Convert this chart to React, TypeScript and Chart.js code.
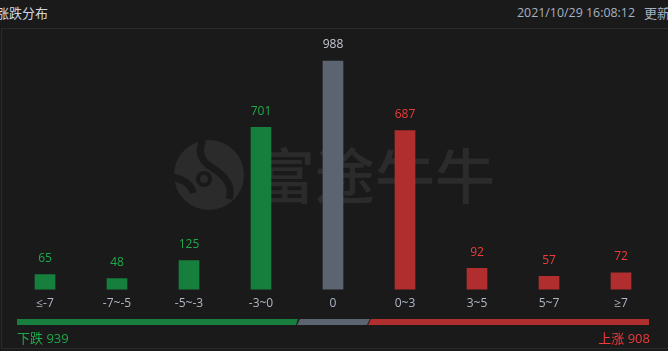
import React, { useEffect, useRef } from "react";
import { Chart, registerables } from "chart.js";

Chart.register(...registerables);

const categories = ["≤-7", "-7~-5", "-5~-3", "-3~0", "0", "0~3", "3~5", "5~7", "≥7"];
const counts = [65, 48, 125, 701, 988, 687, 92, 57, 72];
const barColors = ["#177f3d", "#177f3d", "#177f3d", "#177f3d", "#5d6471", "#b02e2e", "#b02e2e", "#b02e2e", "#b02e2e"];
const labelColors = ["#1fa84a", "#1fa84a", "#1fa84a", "#1fa84a", "#c4c8d0", "#ee3b3b", "#ee3b3b", "#ee3b3b", "#ee3b3b"];
const title = "涨跌分布";
const timestamp = "2021/10/29 16:08:12";
const fallText = "下跌 939";
const riseText = "上涨 908";

const BG = "#1a1a1a";
const FONT = "'Open Sans', 'Noto Sans CJK SC', sans-serif";
const CJK = "'Noto Sans CJK SC', sans-serif";

const watermark = {
  id: "watermark",
  beforeDatasetsDraw(chart: any) {
    const ctx = chart.ctx;
    ctx.save();
    const col = "#2b2b2b";
    const cx = 209, cy = 175, r = 35;
    ctx.fillStyle = col;
    ctx.beginPath();
    ctx.arc(cx, cy, r, 0, Math.PI * 2);
    ctx.fill();
    ctx.strokeStyle = BG;
    ctx.lineWidth = 7;
    ctx.beginPath();
    ctx.moveTo(cx - 6, cy - r);
    ctx.quadraticCurveTo(cx - 14, cy - 18, cx + 2, cy - 8);
    ctx.quadraticCurveTo(cx + 26, cy + 6, cx + 20, cy + 24);
    ctx.stroke();
    ctx.beginPath();
    ctx.moveTo(cx - r - 2, cy + 2);
    ctx.quadraticCurveTo(cx - 18, cy + 6, cx - 16, cy + 18);
    ctx.stroke();
    ctx.fillStyle = BG;
    ctx.beginPath();
    ctx.arc(cx - 5, cy + 4, 8, 0, Math.PI * 2);
    ctx.fill();
    ctx.fillStyle = col;
    ctx.beginPath();
    ctx.arc(cx - 5, cy + 4, 4, 0, Math.PI * 2);
    ctx.fill();
    ctx.fillStyle = col;
    ctx.font = `500 60px ${CJK}`;
    ctx.textAlign = "left";
    ctx.textBaseline = "middle";
    ctx.fillText("富途牛牛", 255, 176);
    ctx.restore();
  },
};

const valueLabels = {
  id: "valueLabels",
  afterDatasetsDraw(chart: any) {
    const ctx = chart.ctx;
    const meta = chart.getDatasetMeta(0);
    ctx.save();
    ctx.font = `12px ${FONT}`;
    ctx.textAlign = "center";
    ctx.textBaseline = "middle";
    meta.data.forEach((bar: any, i: number) => {
      ctx.fillStyle = labelColors[i];
      ctx.fillText(String(counts[i]), bar.x, bar.y - 16);
    });
    ctx.restore();
  },
};

export default function App() {
  const ref = useRef<HTMLCanvasElement>(null);
  useEffect(() => {
    document.body.style.margin = "0";
    document.body.style.background = BG;
    const chart = new Chart(ref.current!, {
      type: "bar",
      data: {
        labels: categories,
        datasets: [
          {
            data: counts,
            backgroundColor: barColors,
            barThickness: 20,
            borderWidth: 0,
          },
        ],
      },
      options: {
        animation: false,
        responsive: false,
        maintainAspectRatio: false,
        layout: { padding: { top: 58, left: 9, right: 11, bottom: 33 } },
        plugins: { legend: { display: false }, tooltip: { enabled: false } },
        scales: {
          y: { display: false, min: 0, max: 1001 },
          x: {
            grid: { display: false, drawTicks: false },
            border: { display: false },
            ticks: { color: "#b0b8c6", font: { size: 12, family: FONT }, padding: 7, maxRotation: 0, autoSkip: false },
          },
        },
      },
      plugins: [watermark, valueLabels],
    });
    return () => chart.destroy();
  }, []);

  const seg = (left: number, width: number, color: string, clip: string) => (
    <div
      style={{
        position: "absolute",
        left,
        top: 319,
        width,
        height: 6,
        background: color,
        clipPath: clip,
      }}
    />
  );

  return (
    <div style={{ position: "relative", width: 668, height: 351, background: BG, overflow: "hidden", fontFamily: FONT }}>
      <div style={{ position: "absolute", left: 1, top: 28, width: 700, height: 319, border: "1px solid #2a2a2a" }} />
      <div style={{ position: "absolute", left: -4, top: 4, fontSize: 13, lineHeight: "18px", color: "#d0d6e0", whiteSpace: "nowrap", fontFamily: CJK }}>{title}</div>
      <div style={{ position: "absolute", right: 33, top: 4, fontSize: 12.4, lineHeight: "18px", color: "#a8b2c2", whiteSpace: "nowrap" }}>{timestamp}</div>
      <div style={{ position: "absolute", left: 644, top: 4, fontSize: 13, lineHeight: "18px", color: "#a8b2c2", whiteSpace: "nowrap", fontFamily: CJK }}>更新</div>
      <canvas ref={ref} width={668} height={351} style={{ position: "absolute", left: 0, top: 0 }} />
      {seg(17, 281, "#177f3d", "polygon(0 0, 100% 0, calc(100% - 2px) 100%, 0 100%)")}
      {seg(297, 73, "#5d6471", "polygon(3px 0, 100% 0, calc(100% - 3px) 100%, 0 100%)")}
      {seg(368, 281, "#b02e2e", "polygon(3px 0, 100% 0, 100% 100%, 0 100%)")}
      <div style={{ position: "absolute", left: 17, top: 329, fontSize: 13, lineHeight: "18px", color: "#1fa84a", whiteSpace: "nowrap" }}>{fallText}</div>
      <div style={{ position: "absolute", right: 18, top: 329, fontSize: 13, lineHeight: "18px", color: "#ee3b3b", whiteSpace: "nowrap" }}>{riseText}</div>
    </div>
  );
}
